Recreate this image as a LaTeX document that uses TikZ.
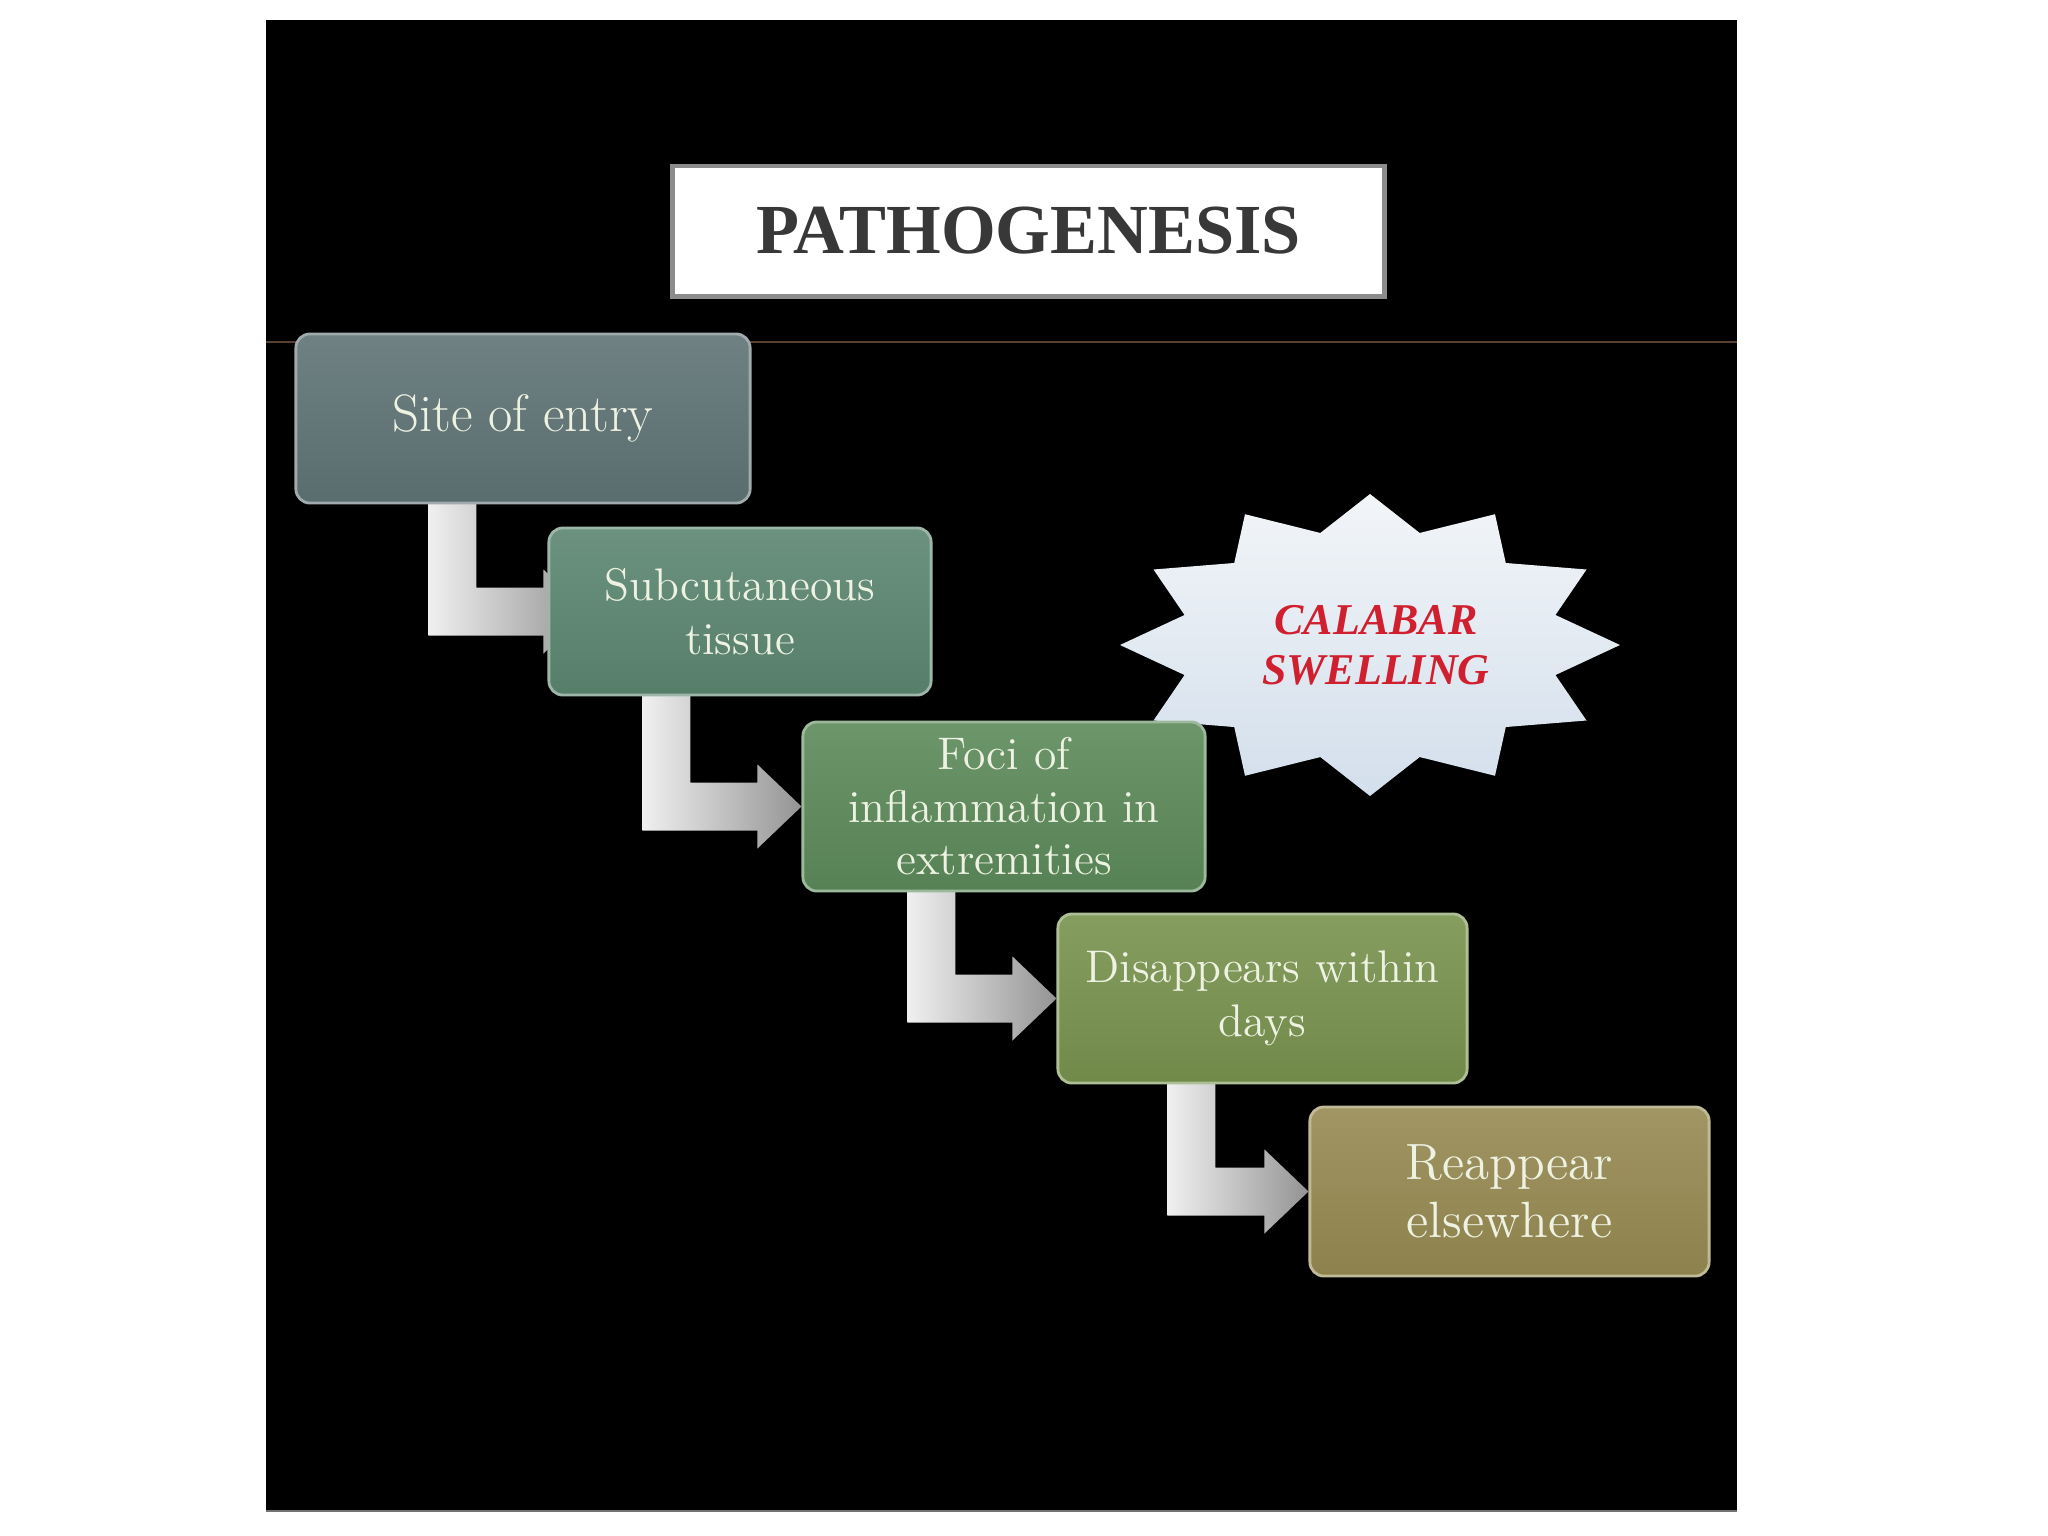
\documentclass[tikz,border=0pt]{standalone}
\usepackage{fontspec}
\newfontfamily\libserif{Liberation Serif}
\usetikzlibrary{calc}
\pgfdeclarelayer{bg}
\pgfdeclarelayer{mid}
\pgfsetlayers{bg,mid,main}
\definecolor{boxtext}{HTML}{EEF2E2}
\definecolor{cA}{HTML}{5F7375}
\definecolor{cB}{HTML}{5B8670}
\definecolor{cC}{HTML}{5C8A5A}
\definecolor{cD}{HTML}{78924E}
\definecolor{cE}{HTML}{968A52}
\definecolor{rule}{HTML}{5A4032}
\definecolor{titletext}{HTML}{383838}
\definecolor{calred}{HTML}{D01F2E}
\definecolor{startop}{HTML}{F2F5F8}
\definecolor{starbot}{HTML}{D3DFEC}
\tikzset{
  stepbox/.style={rounded corners=4pt, align=center, inner sep=0pt, text=boxtext, line width=0.8pt,
    top color=#1!90!white, bottom color=#1!94!black, draw=#1!60!white},
  elbowshade/.style={left color=black!6, right color=black!42},
  titlebox/.style={fill=white, draw=black!45, line width=1.4pt, inner sep=0pt,
    text=titletext, font=\libserif\bfseries\fontsize{20}{24}\selectfont},
}
\newcommand\elbow[4]{%
  \coordinate (e1) at ($(#1.south west)+(#3-24,-6)$);
  \coordinate (e2) at ($(#1.south west)+(#3+24,-6)$);
  \coordinate (tip) at ($(#2.west)+(#4,0)$);
  \coordinate (bA) at ($(tip)+(0,24)$);
  \coordinate (bB) at ($(tip)+(0,-24)$);
  \coordinate (hA) at ($(tip)+(-44,42)$);
  \coordinate (hB) at ($(tip)+(-44,-42)$);
  \coordinate (hbA) at ($(tip)+(-44,24)$);
  \coordinate (hbB) at ($(tip)+(-44,-24)$);
  \begin{pgfonlayer}{mid}
  \fill[elbowshade] (e1) -- (e1 |- bA) -- (hbA) -- (hA) -- (tip) -- (hB) -- (hbB) -- (e2 |- bB) -- (e2) -- cycle;
  \end{pgfonlayer}
}
\begin{document}
\begin{tikzpicture}[x=0.01cm,y=-0.01cm]
\useasboundingbox (0,0) rectangle (2048,1536);
\begin{pgfonlayer}{bg}
\fill[white] (0,0) rectangle (2048,1536);
\fill[black] (266,20) rectangle (1737,1511);
\draw[black!55, line width=0.8pt] (266,1511) -- (1737,1511);
\draw[rule, line width=0.7pt] (266,342) -- (1737,342);
\end{pgfonlayer}

% title
\node[titlebox, minimum width=7.11cm, minimum height=1.30cm] (title) at (1028.5,231) {PATHOGENESIS};

% star burst
\begin{pgfonlayer}{bg}
\fill[top color=startop, bottom color=starbot] (1620,645)
  \foreach \i in {1,...,23} { -- ({1370+ifthenelse(mod(\i,2)==0,250,192)*cos(\i*15)}, {645-ifthenelse(mod(\i,2)==0,151,116)*sin(\i*15)}) } -- cycle;
\end{pgfonlayer}
\node[text=calred, align=center, font=\libserif\bfseries\itshape\fontsize{12.5}{14.3}\selectfont] (calabar) at (1376,645) {CALABAR\\SWELLING};

% boxes
\node[stepbox=cA, minimum width=4.54cm, minimum height=1.69cm, font=\fontsize{15}{18}\selectfont] (b1) at (523,418.5) {Site of entry};
\node[stepbox=cB, minimum width=3.82cm, minimum height=1.67cm, font=\fontsize{13}{15.2}\selectfont] (b2) at (740,611.5) {Subcutaneous\\tissue};
\node[stepbox=cC, minimum width=4.02cm, minimum height=1.69cm, font=\fontsize{13}{14.9}\selectfont] (b3) at (1004,806.5) {Foci of\\inflammation in\\extremities};
\node[stepbox=cD, minimum width=4.09cm, minimum height=1.69cm, font=\fontsize{13}{15.2}\selectfont] (b4) at (1262.5,998.5) {Disappears within\\days};
\node[stepbox=cE, minimum width=3.99cm, minimum height=1.69cm, font=\fontsize{14.5}{16.4}\selectfont] (b5) at (1509.5,1191.5) {Reappear\\elsewhere};

% connectors
\elbow{b1}{b2}{158}{40}
\elbow{b2}{b3}{119}{0}
\elbow{b3}{b4}{130}{0}
\elbow{b4}{b5}{135}{0}
\end{tikzpicture}
\end{document}
